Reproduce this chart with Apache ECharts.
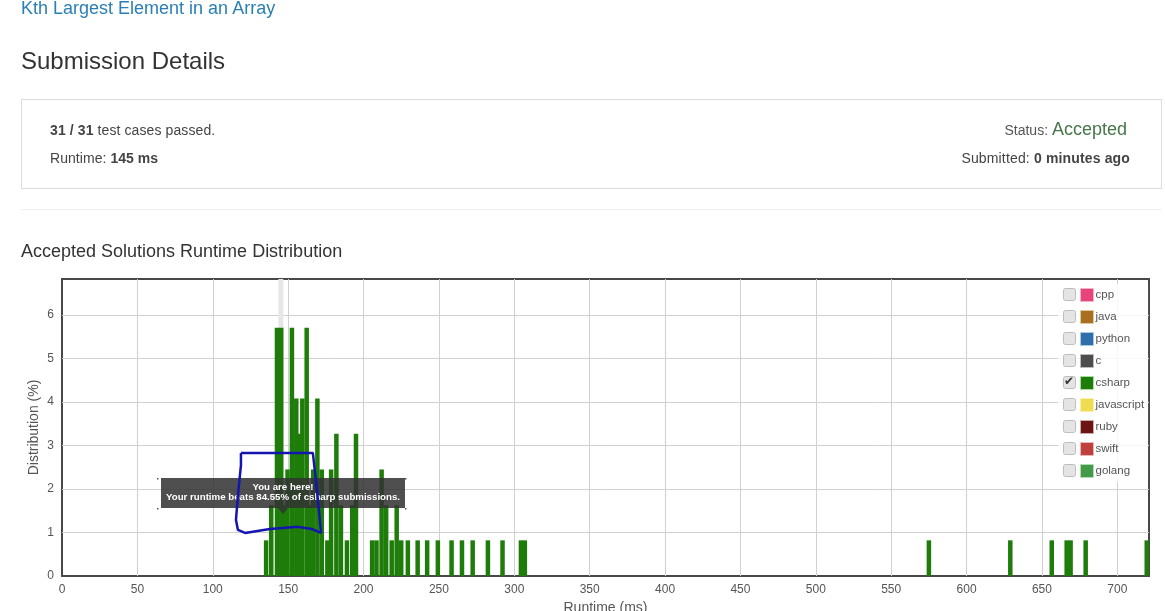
<!DOCTYPE html>
<html>
<head>
<meta charset="utf-8">
<script src="https://cdn.jsdelivr.net/npm/echarts@6/dist/echarts.min.js"></script>
<style>
html,body{margin:0;padding:0;background:#fff;overflow:hidden}
body{width:1165px;height:611px;position:relative;font-family:"Liberation Sans",Arial,sans-serif;color:#333}
#chart{position:absolute;left:0;top:0;width:1165px;height:611px}
.t{position:absolute;white-space:nowrap;line-height:1}
#box{position:absolute;left:21px;top:99px;width:1139px;height:88px;border:1px solid #ddd}
#hr{position:absolute;left:21px;top:209px;width:1140px;height:1px;background:#eee}
</style>
</head>
<body>
<div id="chart"></div>
<div class="t" style="left:21px;top:-1px;font-size:18px;color:#2a7fb5">Kth Largest Element in an Array</div>
<div class="t" style="left:21px;top:49px;font-size:24px;color:#333">Submission Details</div>
<div id="box"></div>
<div class="t" style="left:50px;top:123px;font-size:14px;color:#444;letter-spacing:.1px"><b>31 / 31</b> test cases passed.</div>
<div class="t" style="left:50px;top:151px;font-size:14px;color:#444;letter-spacing:.05px">Runtime: <b>145 ms</b></div>
<div class="t" style="right:38px;top:120px;font-size:14px;color:#555">Status: <span style="font-size:18px;color:#47764a">Accepted</span></div>
<div class="t" style="right:35px;top:151px;font-size:14px;color:#444;letter-spacing:.15px">Submitted: <b>0 minutes ago</b></div>
<div id="hr"></div>
<div class="t" style="left:21px;top:242px;font-size:18px;color:#333">Accepted Solutions Runtime Distribution</div>
<script>
const runtimes = [135.4,138.8,142.6,145.4,147.6,149.6,152.5,155.4,157.2,159.4,162.3,164.6,166.6,169.4,172.3,176,178.5,182,185,189,192.5,195,205.7,208.6,212,215,218.7,222,225,229.4,235.9,242.2,249.3,258.4,265.3,272.4,282.5,292.2,304.4,307,575,629,656.5,666.4,669,679,719.5];
const shares = [0.82,1.63,5.71,5.71,1.63,2.45,5.71,4.08,3.27,4.08,5.71,1.63,2.45,4.08,2.45,0.82,2.45,3.27,1.63,0.82,1.63,3.27,0.82,0.82,2.45,1.63,0.82,1.63,0.82,0.82,0.82,0.82,0.82,0.82,0.82,0.82,0.82,0.82,0.82,0.82,0.82,0.82,0.82,0.82,0.82,0.82,0.82];
const languages = ['cpp','java','python','c','csharp','javascript','ruby','swift','golang'];
const languageColors = ['#e8447c','#a8701e','#2f6ea8','#4d4d4d','#1e7d0a','#f0dc50','#6b1414','#c04040','#459a4a'];
const languageBorders = ['#f4b0c8','#e0c8a0','#a8c8e8','#bbbbbb','#a8dca0','#f8f0b0','#d0a8a8','#e8b8b8','#b0dcb4'];
const checkedLanguage = 'csharp';
const youAreHereRuntime = 145;
const xTickStep = 50;
const annotationX = [118.7,166.4,168.4,170.4,171.8,165.8,156.5,137.9,121.4,116.7,115.4,116.7,118.7,118.7];
const annotationY = [2.83,2.83,2.2,1.52,0.99,1.08,1.13,1.08,0.99,1.06,1.29,1.86,2.55,2.83];
const tooltipLines = ['You are here!','Your runtime beats 84.55% of csharp submissions.'];

const xMax = 721, yMax = 6.83;
const chart = echarts.init(document.getElementById('chart'), null, {renderer:'canvas'});
const labelColor = '#555';
const gridLine = {show:true, showMinLine:false, showMaxLine:false, lineStyle:{color:'#d0d0d0', width:1}};

const series = [{
  name:'here', type:'bar', barWidth:5, barGap:'-100%', silent:true,
  itemStyle:{color:'#e6e6e6'},
  data:[[youAreHereRuntime, yMax]]
}];
languages.forEach((name,i)=>{
  series.push({
    name, type:'bar', barWidth:4.5, barGap:'-100%',
    itemStyle:{color:languageColors[i]},
    data: name===checkedLanguage ? runtimes.map((r,j)=>[r,shares[j]]) : []
  });
});
series.push({
  name:'annotation', type:'line', zlevel:3, showSymbol:false, silent:true,
  lineStyle:{color:'#1414b0', width:2.5},
  data: annotationX.map((x,i)=>[x,annotationY[i]])
});

const legendTop = 284, pitch = 22;
const graphics = [];
const onTop = {zlevel:2, z:100};
languages.forEach((name,i)=>{
  graphics.push({type:'rect', ...onTop, shape:{x:1063.5,y:legendTop+4.5+i*pitch,width:12,height:12,r:2},
    style:{fill:'#e4e4e4',stroke:'#bdbdbd',lineWidth:1}});
  if(name===checkedLanguage){
    graphics.push({type:'text', ...onTop, z2:5, x:1064, y:legendTop+4+i*pitch,
      style:{text:'\u2714',fill:'#333',font:'12px "DejaVu Sans"'}});
  }
});
graphics.push({type:'rect', ...onTop, shape:{x:161,y:478,width:244,height:30}, style:{fill:'rgba(50,50,50,0.86)'}});
graphics.push({type:'polygon', ...onTop, shape:{points:[[278,508],[288,508],[283,514]]}, style:{fill:'rgba(50,50,50,0.86)'}});
[[157,478],[405,478],[157,508],[405,508]].forEach(p=>{
  graphics.push({type:'rect', ...onTop, shape:{x:p[0],y:p[1],width:1.5,height:1.5}, style:{fill:'#555'}});
});
tooltipLines.forEach((s,i)=>{
  graphics.push({type:'text', ...onTop, z2:5, x:283, y:482+i*10.5,
    style:{text:s,fill:'#fff',font:'bold 9.7px "Liberation Sans"',textAlign:'center'}});
});

chart.setOption({
  animation:false,
  backgroundColor:'transparent',
  textStyle:{fontFamily:'"Liberation Sans",Arial,sans-serif'},
  grid:{left:62,right:16,top:279,bottom:35,outerBoundsMode:'none',show:true,borderColor:'#484848',borderWidth:2,backgroundColor:'#fff'},
  xAxis:{type:'value',min:0,max:xMax,interval:xTickStep,
    name:'Runtime (ms)',nameLocation:'middle',nameGap:25,nameMoveOverlap:false,
    nameTextStyle:{color:labelColor,fontSize:14},
    axisLine:{show:false},axisTick:{show:false},
    axisLabel:{color:labelColor,fontSize:12,margin:8,showMaxLabel:false},
    splitLine:gridLine},
  yAxis:{type:'value',min:0,max:yMax,interval:1,
    name:'Distribution (%)',nameLocation:'middle',nameGap:21,nameMoveOverlap:false,
    nameTextStyle:{color:labelColor,fontSize:14},
    axisLine:{show:false},axisTick:{show:false},
    axisLabel:{color:labelColor,fontSize:12,margin:8,showMaxLabel:false},
    splitLine:gridLine},
  legend:{
    orient:'vertical',left:1058,top:legendTop,padding:[4,4,4,22],itemGap:8,
    itemWidth:13,itemHeight:13,icon:'rect',
    backgroundColor:'rgba(255,255,255,0.82)',
    selectedMode:false,
    textStyle:{color:labelColor,fontSize:11.5,padding:[0,0,0,-3]},
    data:languages.map((name,i)=>({name,itemStyle:{color:languageColors[i],borderColor:languageBorders[i],borderWidth:1}}))
  },
  graphic:{elements:graphics},
  tooltip:{show:false},
  series
});
</script>
</body>
</html>
